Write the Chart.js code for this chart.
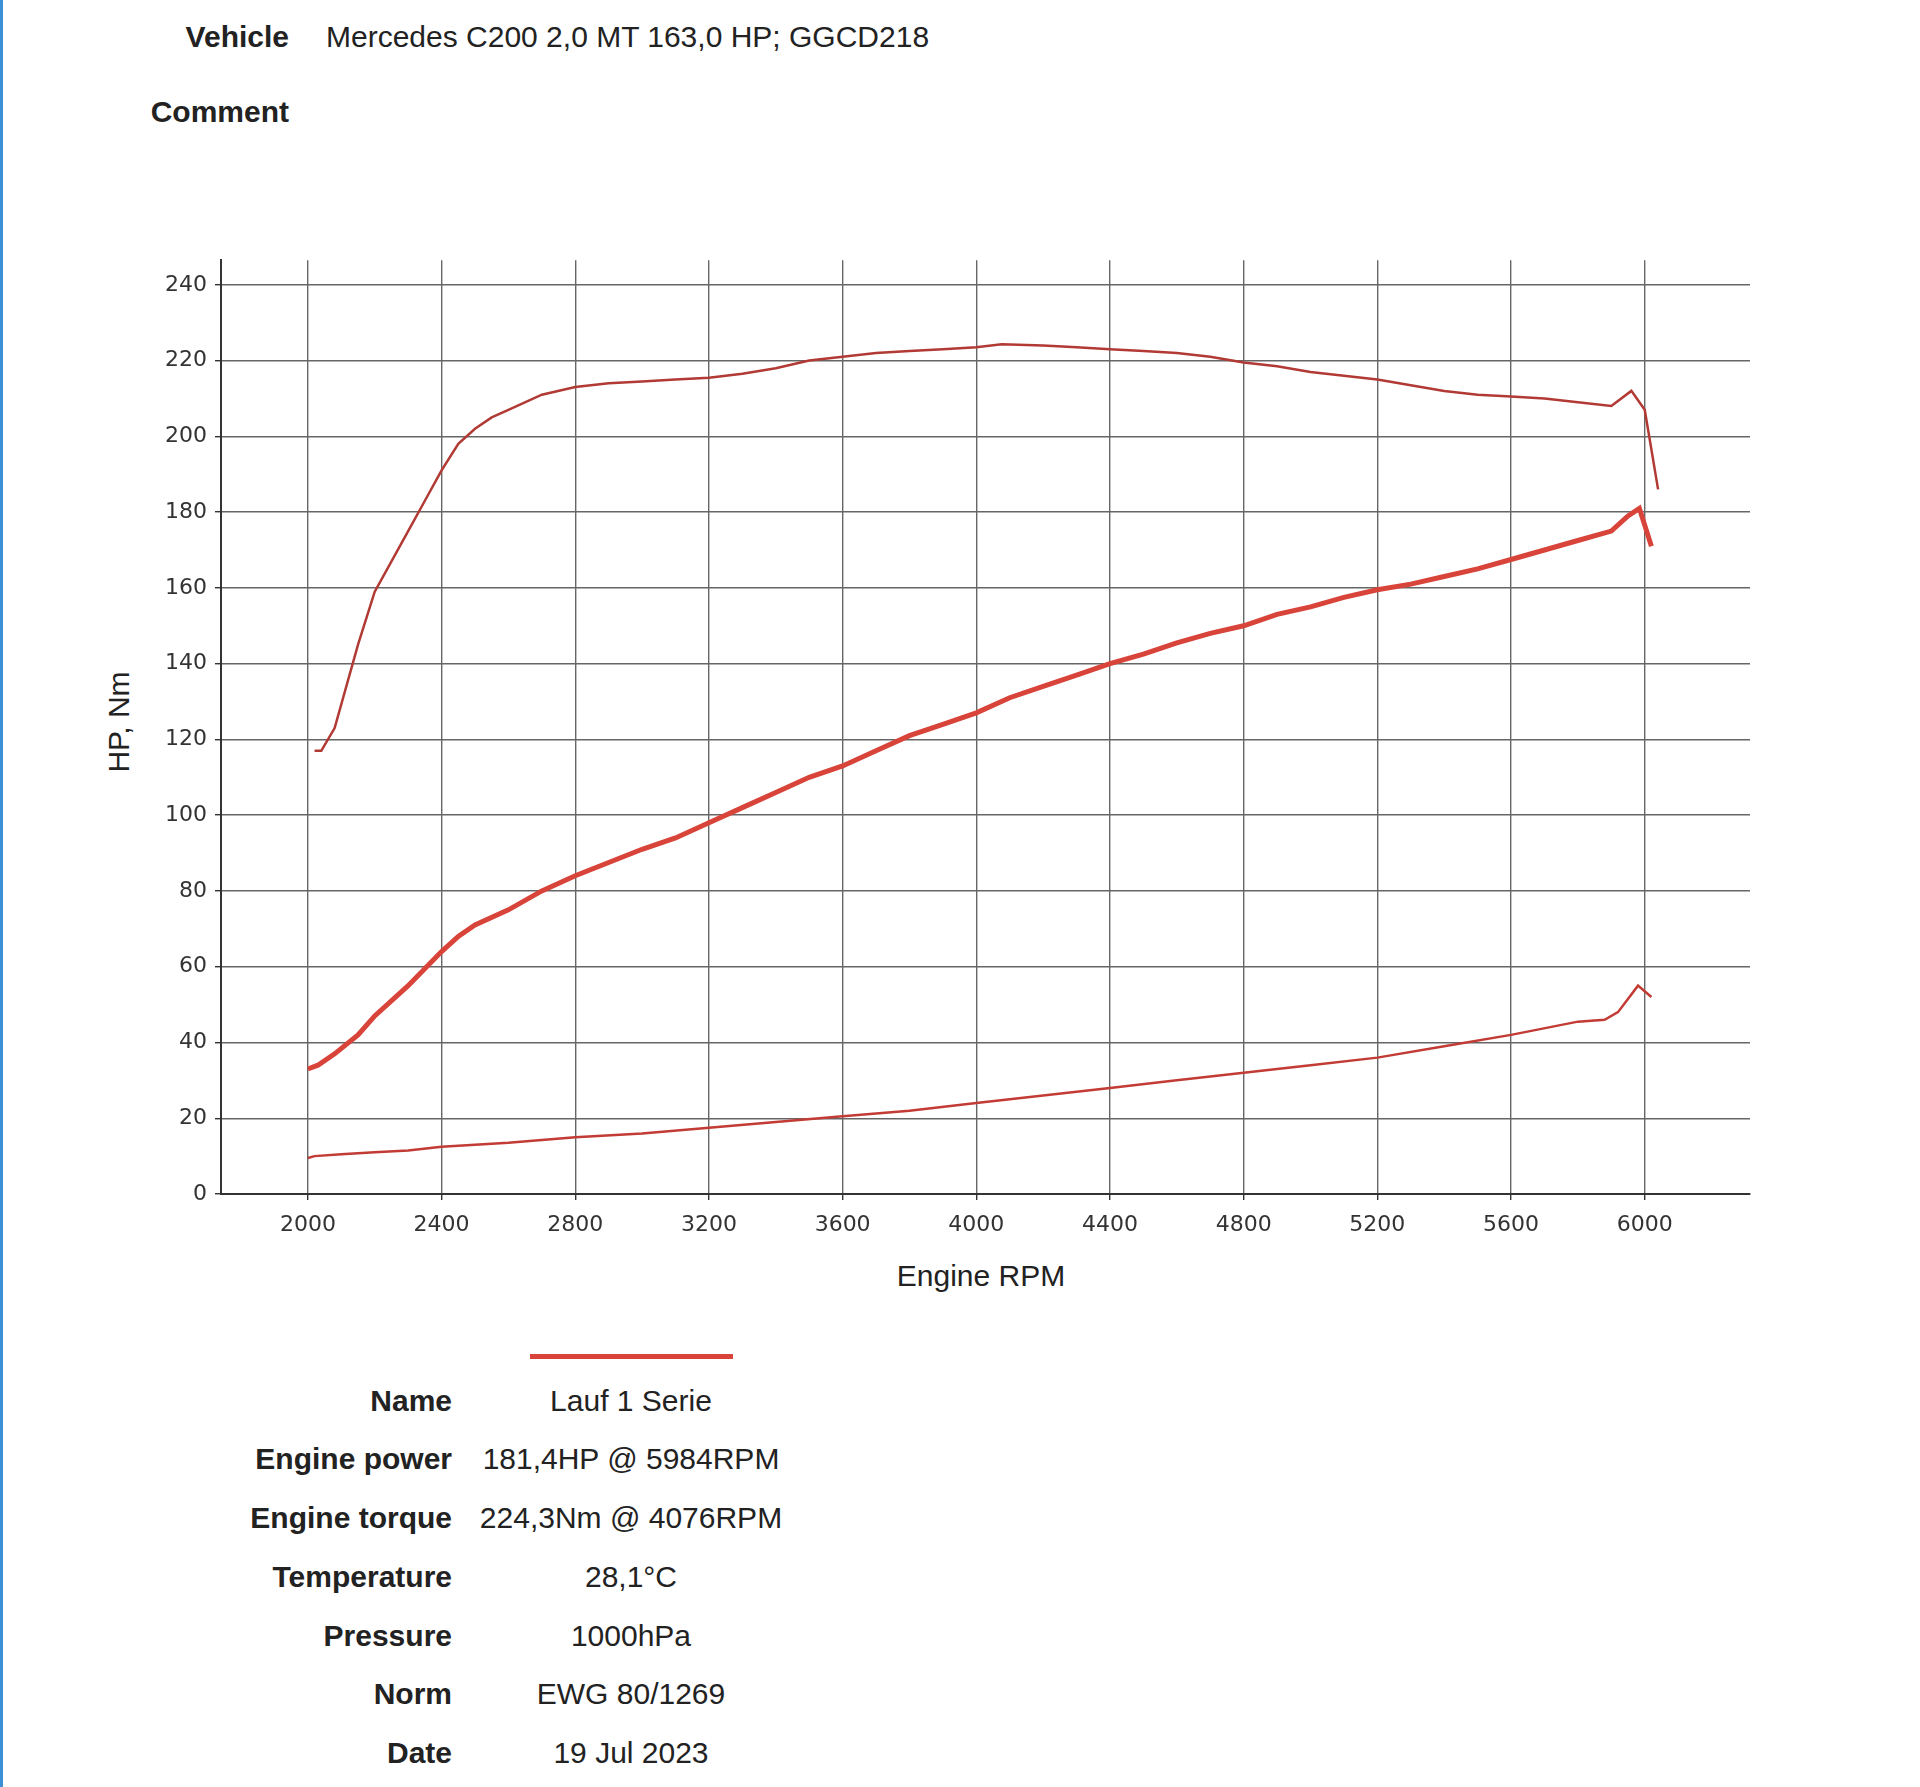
<!DOCTYPE html>
<html>
<head>
<meta charset="utf-8">
<script src="https://cdn.jsdelivr.net/npm/chart.js@4"></script>
<style>
  body { margin: 0; width: 1920px; height: 1787px; background: #fff; position: relative; overflow: hidden;
         font-family: "Liberation Sans", Arial, sans-serif; color: #222; border-left: 3px solid #3a8fd6; box-sizing: border-box; }
  .t { position: absolute; font-size: 30px; white-space: nowrap; }
  .b { font-weight: bold; }
  .r { text-align: right; }
  #wrap { position: absolute; left: 158px; top: 239px; width: 1600px; height: 1074px; }
</style>
</head>
<body>
<div class="t b r" style="right:1631px; top:20px;">Vehicle</div>
<div class="t" style="left:323px; top:20px;">Mercedes C200 2,0 MT 163,0 HP; GGCD218</div>
<div class="t b r" style="right:1631px; top:95px;">Comment</div>

<div class="t" style="left:116px; top:722px; transform: translate(-50%,-50%) rotate(-90deg);">HP, Nm</div>
<div class="t" style="left:978px; top:1276px; transform: translate(-50%,-50%);">Engine RPM</div>

<div id="wrap"><canvas id="dyno"></canvas></div>

<div style="position:absolute; left:527px; top:1354px; width:203px; height:5px; background:#d9443a;"></div>
<div id="table"></div>

<script>
// torque curve (Nm)
const torqueRpm = [2020,2040,2080,2150,2200,2300,2350,2400,2450,2500,2550,2600,2700,2800,2900,3000,3100,3200,3300,3400,3500,3600,3700,3800,3900,4000,4076,4200,4300,4400,4500,4600,4700,4800,4900,5000,5100,5200,5300,5400,5500,5600,5700,5800,5900,5960,6000,6040];
const torqueNm  = [117,117,123,145,159,175,183,191,198,202,205,207,211,213,214,214.5,215,215.5,216.5,218,220,221,222,222.5,223,223.5,224.3,224,223.5,223,222.5,222,221,219.5,218.5,217,216,215,213.5,212,211,210.5,210,209,208,212,207,186];

// engine power (HP)
const powerRpm = [2000,2030,2080,2150,2200,2300,2400,2450,2500,2600,2700,2800,2900,3000,3100,3200,3300,3400,3500,3600,3700,3800,3900,4000,4100,4200,4300,4400,4500,4600,4700,4800,4900,5000,5100,5200,5300,5400,5500,5600,5700,5800,5900,5950,5984,6020];
const powerHp  = [33,34,37,42,47,55,64,68,71,75,80,84,87.5,91,94,98,102,106,110,113,117,121,124,127,131,134,137,140,142.5,145.5,148,150,153,155,157.5,159.5,161,163,165,167.5,170,172.5,175,179,181,171];

// loss power (HP)
const lossRpm = [2000,2020,2100,2200,2300,2400,2500,2600,2800,3000,3200,3400,3600,3800,4000,4200,4400,4600,4800,5000,5200,5400,5600,5800,5880,5920,5980,6020];
const lossHp  = [9.5,10,10.5,11,11.5,12.5,13,13.5,15,16,17.5,19,20.5,22,24,26,28,30,32,34,36,39,42,45.5,46,48,55,52];

const xTicks = [2000,2400,2800,3200,3600,4000,4400,4800,5200,5600,6000];
const yTicks = [0,20,40,60,80,100,120,140,160,180,200,220,240];

const tableLabels = ['Name','Engine power','Engine torque','Temperature','Pressure','Norm','Date'];
const tableValues = ['Lauf 1 Serie','181,4HP @ 5984RPM','224,3Nm @ 4076RPM','28,1°C','1000hPa','EWG 80/1269','19 Jul 2023'];
const rowTops = [1384,1442,1501,1560,1619,1677,1736];

const tbl = document.getElementById('table');
tableLabels.forEach((l, i) => {
  tbl.insertAdjacentHTML('beforeend',
    `<div class="t b r" style="right:1468px; top:${rowTops[i]}px;">${l}</div>` +
    `<div class="t" style="left:628px; top:${rowTops[i]}px; transform:translateX(-50%);">${tableValues[i]}</div>`);
});

const pts = (xs, ys) => xs.map((x, i) => ({ x: x, y: ys[i] }));
const grid = { color: '#666', lineWidth: 1.4, borderDash: [2, 2], drawTicks: true, tickLength: 6, tickColor: '#333' };

new Chart(document.getElementById('dyno').getContext('2d'), {
  type: 'line',
  data: {
    datasets: [
      { data: pts(torqueRpm, torqueNm), borderColor: '#b23a35', borderWidth: 2.5 },
      { data: pts(powerRpm, powerHp), borderColor: '#d9443a', borderWidth: 5 },
      { data: pts(lossRpm, lossHp), borderColor: '#c23b34', borderWidth: 2.5 }
    ]
  },
  options: {
    responsive: true,
    maintainAspectRatio: false,
    animation: false,
    layout: { padding: { top: 10, right: 11, left: 0, bottom: 0 } },
    elements: { point: { radius: 0 }, line: { tension: 0 } },
    plugins: { legend: { display: false }, tooltip: { enabled: false } },
    scales: {
      x: {
        type: 'linear', min: 1740, max: 6315,
        afterBuildTicks: s => { s.ticks = xTicks.map(v => ({ value: v })); },
        afterFit: s => { s.height = 119; },
        grid: grid,
        border: { color: '#333', width: 2 },
        ticks: { color: '#333', font: { family: 'DejaVu Sans', size: 22 }, padding: 12, maxRotation: 0,
                 callback: v => String(v) }
      },
      y: {
        min: 0, max: 246.5,
        afterBuildTicks: s => { s.ticks = yTicks.map(v => ({ value: v })); },
        afterFit: s => { s.width = 60; },
        grid: grid,
        border: { color: '#333', width: 2 },
        ticks: { color: '#333', font: { family: 'DejaVu Sans', size: 22 }, padding: 8,
                 callback: v => String(v) }
      }
    }
  }
});
</script>
</body>
</html>
